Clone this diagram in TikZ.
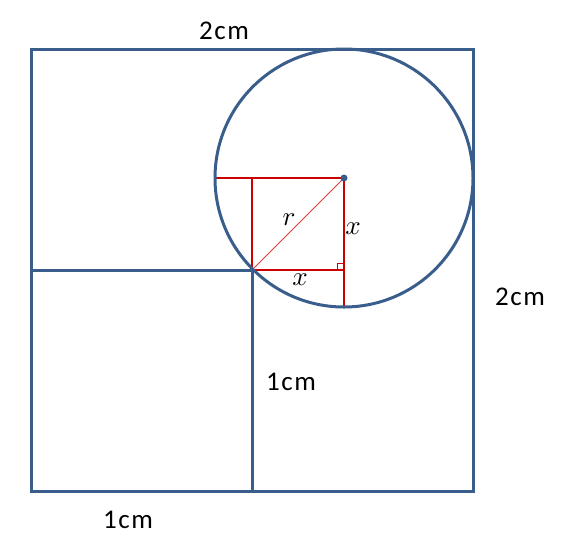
\documentclass[tikz,border=0pt]{standalone}
\usepackage{fontspec}
\usepackage{graphicx}
\setmainfont{Carlito}
\newfontfamily\lblfont[LetterSpace=6]{Carlito}
\usetikzlibrary{calc}
\definecolor{sqblue}{RGB}{58,94,140}
\definecolor{lred}{RGB}{204,0,0}
\newcommand{\bigmath}[1]{\scalebox{2.7}{$#1$}}
\begin{document}
\begin{tikzpicture}[x=1pt,y=-1pt,
  blueline/.style={draw=sqblue,line width=3pt},
  redline/.style={draw=lred,line width=1.6pt},
  thinred/.style={draw=lred!75,line width=0.9pt},
  lbl/.style={font=\lblfont\fontsize{27}{32}\selectfont,inner sep=0pt},
  mlbl/.style={inner sep=0pt}]
\useasboundingbox (0,0) rectangle (567,542);
\coordinate (TL) at (31,49);
\coordinate (BR) at (473,491);
\coordinate (M) at (252,270);
\coordinate (ML) at (31,270);
\coordinate (MB) at (252,491);
\coordinate (O) at (344,178);
\coordinate (CL) at (215,178);
\coordinate (TOP) at (252,178);
\coordinate (CB) at (344,307);
\coordinate (F) at (344,270);
% red construction lines
\draw[redline] (CL) -- (O);
\draw[redline] (TOP) -- (M);
\draw[redline] (M) -- (F);
\draw[redline] (O) -- (CB);
\draw[thinred] (M) -- (O);
\draw[lred,line width=1pt] ($(F)+(-7,0)$) |- ($(F)+(0,-7)$);
% squares
\draw[blueline] (TL) rectangle (BR);
\draw[blueline] (ML) -- (M) -- (MB);
\draw[blueline] (O) circle (129);
\fill[sqblue] (O) circle (3.5);
% labels
\node[lbl] (t1) at (224,31) {2cm};
\node[lbl] (t2) at (520,297) {2cm};
\node[lbl] (t3) at (291,382) {1cm};
\node[lbl] (t4) at (128,520) {1cm};
\node[mlbl] (r) at (289,220) {\bigmath{r}};
\node[mlbl] (x1) at (353,229) {\bigmath{x}};
\node[mlbl] (x2) at (300,280) {\bigmath{x}};
\end{tikzpicture}
\end{document}
